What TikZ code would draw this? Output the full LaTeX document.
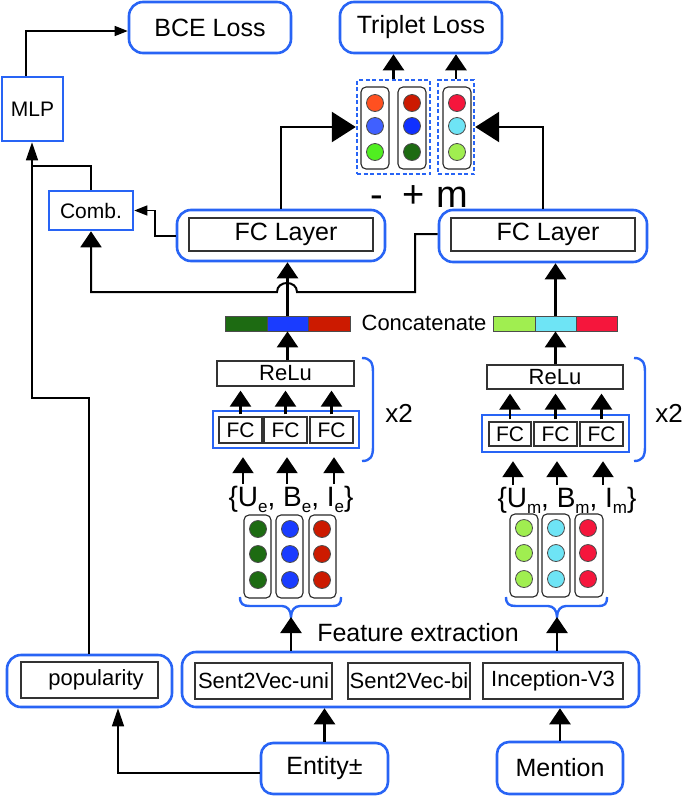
\documentclass[tikz,border=0pt]{standalone}
\usepackage{fontspec}
\setmainfont{Liberation Sans}
\usetikzlibrary{arrows.meta,calc}
\definecolor{bl}{RGB}{40,100,245}
\definecolor{dgreen}{RGB}{29,107,18}
\definecolor{cblue}{RGB}{26,60,255}
\definecolor{cred}{RGB}{204,26,0}
\definecolor{lgreen}{RGB}{160,238,80}
\definecolor{ccyan}{RGB}{110,228,245}
\definecolor{pred}{RGB}{245,22,60}
\definecolor{corange}{RGB}{255,80,32}
\definecolor{mblue}{RGB}{64,96,255}
\definecolor{mgreen}{RGB}{80,238,32}
\definecolor{sblue}{RGB}{16,48,255}
\newcommand\myfs[1]{\fontsize{#1pt}{#1pt}\selectfont}
\begin{document}
\begin{tikzpicture}[x=1pt,y=-1pt,
  bbox/.style={draw=bl, line width=2.6pt, rounded corners=14pt, inner sep=0pt, fill=white},
  sbox/.style={draw=bl, line width=2.6pt, inner sep=0pt, fill=white},
  ibox/.style={draw=black!80, line width=1.2pt, inner sep=0pt},
  colbox/.style={draw=black!85, line width=1.1pt, rounded corners=5pt, minimum width=28pt, minimum height=82pt, inner sep=0pt},
  dot/.style={circle, draw=black!70, line width=0.8pt, minimum size=17pt, inner sep=0pt},
  dbox/.style={draw=bl, line width=2.4pt, dash pattern=on 4pt off 2.5pt, minimum height=94pt, inner sep=0pt},
  seg/.style={draw=black!70, line width=0.8pt, minimum height=15pt, inner sep=0pt},
  thk/.style={line width=2.4pt, -{Triangle[width=21pt,length=16pt]}},
  thn/.style={line width=1.5pt, -{Triangle[width=10pt,length=13pt]}},
  nar/.style={line width=1.5pt, -{Triangle[width=12pt,length=18pt]}},
  bigarr/.style={line width=2.4pt, -{Triangle[width=30pt,length=24pt]}},
  brc/.style={draw=bl, line width=2.4pt}
]
\useasboundingbox (0,0) rectangle (685,796);

% top boxes
\node[bbox, minimum width=162pt, minimum height=51pt, font=\myfs{25}] (bce) at (210,27.5) {\raisebox{-3pt}{BCE Loss}};
\node[bbox, minimum width=162pt, minimum height=51pt, font=\myfs{25}] (trip) at (421,27.5) {\raisebox{-2pt}{Triplet Loss}};
\node[sbox, minimum width=61pt, minimum height=64pt, font=\myfs{21}] (mlp) at (32.5,109) {MLP};
\node[sbox, minimum width=84pt, minimum height=39pt, font=\myfs{21}] (comb) at (91,210.5) {Comb.};

% FC layers
\node[bbox, minimum width=208pt, minimum height=51pt] (fcLo) at (281,235.5) {};
\node[ibox, minimum width=184pt, minimum height=33pt, font=\myfs{25}] (fcLi) at (281,234.5) {\hspace*{10pt}FC Layer};
\node[bbox, minimum width=208pt, minimum height=52pt] (fcRo) at (543,236) {};
\node[ibox, minimum width=184pt, minimum height=33pt, font=\myfs{25}] (fcRi) at (543,234.5) {\hspace*{10pt}FC Layer};

% triplet embeddings
\node[dbox, minimum width=73pt] (box1) at (393.5,127) {};
\node[dbox, minimum width=36pt] (box2) at (456,127) {};
\node[colbox] (t1) at (375,128) {};
\node[colbox] (t2) at (412,128) {};
\node[colbox] (t3) at (457,128) {};
\node[dot, fill=corange] (t1a) at (375,103) {};
\node[dot, fill=mblue] (t1b) at (375,126) {};
\node[dot, fill=mgreen] (t1c) at (375,152) {};
\node[dot, fill=cred] (t2a) at (412,103) {};
\node[dot, fill=sblue] (t2b) at (412,126) {};
\node[dot, fill=dgreen] (t2c) at (412,152) {};
\node[dot, fill=pred] (t3a) at (457,103) {};
\node[dot, fill=ccyan] (t3b) at (457,126) {};
\node[dot, fill=lgreen] (t3c) at (457,152) {};
\node[font=\myfs{38}, anchor=base, inner sep=0pt] (minus) at (377,207) {-};
\node[font=\myfs{38}, anchor=base, inner sep=0pt] (plus) at (414,207) {+};
\node[font=\myfs{38}, anchor=base, inner sep=0pt] (mm) at (452,207) {m};

% concatenate bars
\node[seg, fill=dgreen, minimum width=42pt] (bL1) at (246,323.5) {};
\node[seg, fill=cblue, minimum width=41pt] (bL2) at (287.5,323.5) {};
\node[seg, fill=cred, minimum width=42pt] (bL3) at (329,323.5) {};
\node[seg, fill=lgreen, minimum width=42pt] (bR1) at (514,323.5) {};
\node[seg, fill=ccyan, minimum width=41pt] (bR2) at (555.5,323.5) {};
\node[seg, fill=pred, minimum width=41pt] (bR3) at (596.5,323.5) {};
\node[font=\myfs{22}] (concat) at (424,323) {Concatenate};

% ReLu and FC groups
\node[ibox, minimum width=137pt, minimum height=25pt, font=\myfs{22}] (reluL) at (285.5,373.5) {ReLu};
\node[ibox, minimum width=136pt, minimum height=24pt, font=\myfs{22}] (reluR) at (555,377) {ReLu};
\node[draw=bl, line width=2.4pt, minimum width=146pt, minimum height=37pt, inner sep=0pt] (fcgL) at (286,429.5) {};
\node[draw=bl, line width=2.4pt, minimum width=147pt, minimum height=37pt, inner sep=0pt] (fcgR) at (555.5,433.5) {};
\node[ibox, minimum width=43pt, minimum height=26pt, font=\myfs{21}] (fL1) at (240.5,430) {FC};
\node[ibox, minimum width=43pt, minimum height=26pt, font=\myfs{21}] (fL2) at (285.5,430) {FC};
\node[ibox, minimum width=43pt, minimum height=26pt, font=\myfs{21}] (fL3) at (331.5,430) {FC};
\node[ibox, minimum width=42pt, minimum height=24pt, font=\myfs{21}] (fR1) at (510,434) {FC};
\node[ibox, minimum width=43pt, minimum height=24pt, font=\myfs{21}] (fR2) at (555.5,434) {FC};
\node[ibox, minimum width=43pt, minimum height=24pt, font=\myfs{21}] (fR3) at (601.5,434) {FC};
\node[font=\myfs{26}] (x2L) at (399,413) {x2};
\node[font=\myfs{26}] (x2R) at (669,413) {x2};
\draw[brc] (362,358) .. controls (370,358) and (373,362) .. (373,372) -- (373,447) .. controls (373,457) and (370,461) .. (362,461);
\draw[brc] (634,358) .. controls (642,358) and (645,362) .. (645,372) -- (645,447) .. controls (645,457) and (642,461) .. (634,461);

% feature labels
\node[font=\myfs{28}, anchor=base, inner sep=0pt] (uL) at (291,506) {\{U\raisebox{-6pt}{\myfs{17}e}, B\raisebox{-6pt}{\myfs{17}e}, I\raisebox{-6pt}{\myfs{17}e}\}};
\node[font=\myfs{28}, anchor=base, inner sep=0pt] (uR) at (567,507) {\{U\raisebox{-6pt}{\myfs{17}m}, B\raisebox{-6pt}{\myfs{17}m}, I\raisebox{-6pt}{\myfs{17}m}\}};

% circle columns
\node[colbox, minimum width=27pt, minimum height=83pt] (cL1) at (257.5,556.5) {};
\node[colbox, minimum width=27pt, minimum height=83pt] (cL2) at (289.5,556.5) {};
\node[colbox, minimum width=27pt, minimum height=83pt] (cL3) at (322.5,556.5) {};
\foreach \yy in {529,554,580} {
  \node[dot, fill=dgreen] at (258,\yy) {};
  \node[dot, fill=cblue] at (290,\yy) {};
  \node[dot, fill=cred] at (322,\yy) {};
}
\node[colbox, minimum width=28pt, minimum height=83pt] (cR1) at (524,555.5) {};
\node[colbox, minimum width=28pt, minimum height=83pt] (cR2) at (556,555.5) {};
\node[colbox, minimum width=28pt, minimum height=83pt] (cR3) at (589,555.5) {};
\foreach \yy in {528,553,579} {
  \node[dot, fill=lgreen] at (524,\yy) {};
  \node[dot, fill=ccyan] at (556,\yy) {};
  \node[dot, fill=pred] at (588,\yy) {};
}
\coordinate (tipL) at (291,617);
\coordinate (tipR) at (557,617);
\draw[brc] (240,597) .. controls (240,604) and (243,606) .. (250,606) -- (282,606) .. controls (287,606) and (291,610) .. (tipL)
  .. controls (291,610) and (295,606) .. (300,606) -- (332,606) .. controls (339,606) and (341,604) .. (341,597);
\draw[brc] (506,597) .. controls (506,604) and (509,606) .. (516,606) -- (548,606) .. controls (553,606) and (557,610) .. (tipR)
  .. controls (557,610) and (561,606) .. (566,606) -- (598,606) .. controls (605,606) and (607,604) .. (607,597);

% bottom
\node[font=\myfs{25}, anchor=base] (fe) at (418,641) {Feature extraction};
\node[bbox, minimum width=457pt, minimum height=55pt] (feat) at (410.5,679.5) {};
\node[ibox, minimum width=137pt, minimum height=36pt, font=\myfs{22}] (s2u) at (263.5,681) {Sent2Vec-uni};
\node[ibox, minimum width=122pt, minimum height=36pt, font=\myfs{22}] (s2b) at (409,681) {Sent2Vec-bi};
\node[ibox, minimum width=140pt, minimum height=36pt, font=\myfs{22}] (inc) at (553,681) {Inception-V3};
\node[bbox, minimum width=165pt, minimum height=52pt] (popO) at (89.5,681) {};
\node[ibox, minimum width=137pt, minimum height=36pt, font=\myfs{22}] (popI) at (89.5,680) {\hspace*{13pt}popularity};
\node[bbox, rounded corners=12pt, minimum width=127pt, minimum height=51pt, font=\myfs{25}] (ent) at (324.5,768.5) {Entity±};
\node[bbox, rounded corners=12pt, minimum width=126pt, minimum height=52pt, font=\myfs{25}] (men) at (560,768) {\raisebox{-2pt}{Mention}};

% connectors
\coordinate (mb) at (26,31);
\draw[thn] (mlp.north -| mb) -- (mb) -- (mb -| bce.west);
\coordinate (pm) at (89,398);
\coordinate (mq) at (32,398);
\draw[nar] (popO.north -| pm) -- (pm) -- (mq) -- (mq |- mlp.south);
\coordinate (cm) at (32,166);
\draw[line width=1.5pt] (comb.north) |- (cm);
\coordinate (fq) at (155,236);
\draw[thn] (fcLo.west |- fq) -- (fq) |- (comb.east);
\coordinate (bq) at (415,234);
\coordinate (bb) at (415,292);
\coordinate (bu1) at (297,292);
\coordinate (bu2) at (277,292);
\draw[line width=2pt, -{Triangle[width=21pt,length=16pt]}] (fcRo.west |- bq) -- (bq) -- (bb) -- (bu1) .. controls (297,280) and (277,280) .. (bu2) -- (comb.south |- bb) -- (comb.south);
\draw[thk] (bL2.north) -- (bL2.north |- fcLo.south);
\draw[thk] (bR2.north) -- (bR2.north |- fcRo.south);
\draw[bigarr] (fcLo.north) |- (box1.west);
\draw[bigarr] (fcRo.north) |- (box2.east);
\draw[thk] (box1.north) -- (box1.north |- trip.south);
\draw[thk] (box2.north) -- (box2.north |- trip.south);
\draw[thk] (reluL.north -| bL2) -- (bL2.south);
\draw[thk] (reluR.north -| bR2) -- (bR2.south);
\foreach \f in {fL1,fL2,fL3} {\draw[thk, shorten >=4pt] ([yshift=2pt]\f.north) -- (\f.north |- reluL.south);}
\foreach \f in {fR1,fR2,fR3} {\draw[thk, shorten >=4pt] ([yshift=2pt]\f.north) -- (\f.north |- reluR.south);}
\coordinate (uL1) at (243,484);
\coordinate (uL2) at (287,484);
\coordinate (uL3) at (334,484);
\coordinate (uR1) at (513,485);
\coordinate (uR2) at (557,485);
\coordinate (uR3) at (603,485);
\foreach \u in {uL1,uL2,uL3} {\draw[thk, shorten >=8pt] (\u) -- (\u |- fcgL.south);}
\foreach \u in {uR1,uR2,uR3} {\draw[thk, shorten >=8pt] (\u) -- (\u |- fcgR.south);}
\draw[thk] (feat.north -| tipL) -- (tipL);
\draw[thk] (feat.north -| tipR) -- (tipR);
\draw[thk] (ent.north) -- (ent.north |- feat.south);
\draw[thk] (men.north) -- (men.north |- feat.south);
\coordinate (pe) at (118,773);
\draw[nar] (ent.west |- pe) -- (pe) -- (pe |- popO.south);
\end{tikzpicture}
\end{document}
